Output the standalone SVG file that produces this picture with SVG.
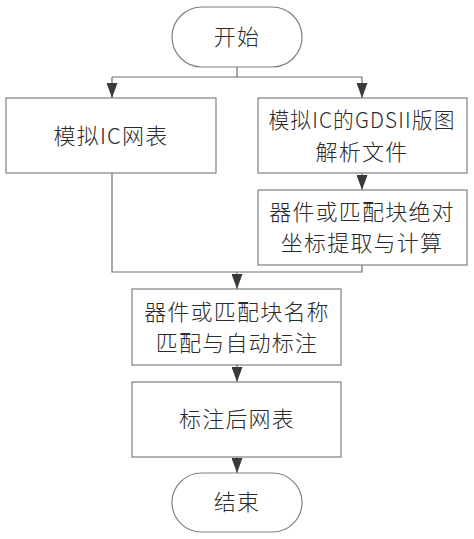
<svg xmlns="http://www.w3.org/2000/svg" width="474" height="539" viewBox="0 0 474 539">
<defs>
<marker id="arr" markerUnits="userSpaceOnUse" markerWidth="15" markerHeight="11" refX="15" refY="5.5" orient="auto" viewBox="0 0 15 11">
<path d="M0 0 L15 5.5 L0 11 Z" fill="#3a3a3a"/>
</marker>
<style>
.box{fill:#fff;stroke:#808080;stroke-width:1.2}
.ln{fill:none;stroke:#707070;stroke-width:1.2}
.t{font-family:"Noto Sans CJK SC","Noto Sans",sans-serif;font-size:22px;font-weight:300;letter-spacing:1.2px;fill:#2a2a2a;text-anchor:middle}
</style>
</defs>
<rect width="474" height="539" fill="#fff"/>
<g id="connectors">
<path class="ln" d="M237 67 V77 M112 77 H362"/>
<path class="ln" d="M112 77 V98" marker-end="url(#arr)"/>
<path class="ln" d="M362 77 V98" marker-end="url(#arr)"/>
<path class="ln" d="M362 173 V190" marker-end="url(#arr)"/>
<path class="ln" d="M112 173 V272 H362 V265"/>
<path class="ln" d="M237 272 V289" marker-end="url(#arr)"/>
<path class="ln" d="M237 365 V382" marker-end="url(#arr)"/>
<path class="ln" d="M237 457 V473" marker-end="url(#arr)"/>
</g>
<g id="start">
<rect class="box" x="172" y="7" width="130" height="60" rx="30"/>
<text class="t" x="237" y="45">开始</text>
</g>
<g id="netlist">
<rect class="box" x="6" y="98" width="210" height="75"/>
<text class="t" x="111" y="144">模拟IC网表</text>
</g>
<g id="gds">
<rect class="box" x="258" y="98" width="209" height="75"/>
<text class="t" x="362" y="128" textLength="187" lengthAdjust="spacingAndGlyphs">模拟IC的GDSII版图</text>
<text class="t" x="362" y="160">解析文件</text>
</g>
<g id="extract">
<rect class="box" x="258" y="190" width="209" height="75"/>
<text class="t" x="362" y="220">器件或匹配块绝对</text>
<text class="t" x="362" y="251">坐标提取与计算</text>
</g>
<g id="match">
<rect class="box" x="132" y="289" width="209" height="76"/>
<text class="t" x="237" y="320">器件或匹配块名称</text>
<text class="t" x="237" y="351">匹配与自动标注</text>
</g>
<g id="annotated">
<rect class="box" x="132" y="382" width="209" height="75"/>
<text class="t" x="237" y="427">标注后网表</text>
</g>
<g id="end">
<rect class="box" x="172" y="473" width="130" height="59" rx="29.5"/>
<text class="t" x="237" y="510">结束</text>
</g>
</svg>
